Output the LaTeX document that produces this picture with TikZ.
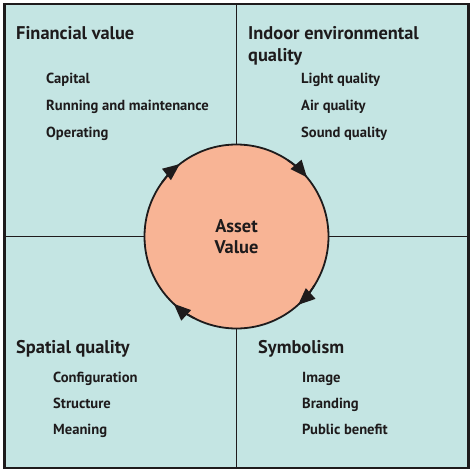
\documentclass[tikz,border=0pt]{standalone}
\usepackage{fontspec}
\setmainfont{PT Sans}
\usetikzlibrary{arrows.meta}
\definecolor{bgteal}{HTML}{C4E5E3}
\definecolor{salmon}{HTML}{F8B495}
\definecolor{ink}{HTML}{1E1B1C}
\begin{document}
\begin{tikzpicture}[x=1pt,y=-1pt,
  title/.style={anchor=base west,inner sep=0pt,font=\bfseries\fontsize{18.4}{20}\selectfont,text=ink},
  item/.style={anchor=base west,inner sep=0pt,font=\bfseries\fontsize{14.6}{16}\selectfont,text=ink},
  divider/.style={draw=ink,line width=1.8pt},
  cyc/.style={draw=ink,line width=1.8pt,-{Triangle[length=17pt,width=14pt]}}]
\useasboundingbox (0,0) rectangle (474,474);
\node[draw=ink,line width=2.2pt,fill=bgteal,minimum width=464pt,minimum height=464pt,inner sep=0pt,outer sep=0pt] (frame) at (236.5,236) {};
\node[circle,draw=ink,line width=1.8pt,fill=salmon,minimum size=184pt,inner sep=0pt,outer sep=0pt,align=center,font=\bfseries\fontsize{18.4}{22}\selectfont,text=ink] (av) at (236.5,236.5) {Asset\\[-1pt]Value};
\draw[divider] (frame.north -| av.north) -- (av.north);
\draw[divider] (frame.south -| av.south) -- (av.south);
\draw[divider] (frame.west |- av.west) -- (av.west);
\draw[divider] (frame.east |- av.east) -- (av.east);
\draw[cyc] (av.144) arc[start angle=144,end angle=128,radius=92pt];
\draw[cyc] (av.56) arc[start angle=56,end angle=40,radius=92pt];
\draw[cyc] (av.-32) arc[start angle=-32,end angle=-48,radius=92pt];
\draw[cyc] (av.-117) arc[start angle=-117,end angle=-133,radius=92pt];
% Financial value
\node[title] (fv) at (16,39) {Financial value};
\node[item] (fv1) at (46,83) {Capital};
\node[item] (fv2) at (46,110) {Running and maintenance};
\node[item] (fv3) at (46,137) {Operating};
% Indoor environmental quality
\node[title] (ieq) at (248,39) {Indoor environmental};
\node[title] (ieq2) at (248,61) {quality};
\node[item] (ieq3) at (301,83) {Light quality};
\node[item] (ieq4) at (301,110) {Air quality};
\node[item] (ieq5) at (301,137) {Sound quality};
% Spatial quality
\node[title] (sq) at (16,353) {Spatial quality};
\node[item] (sq1) at (53,382) {Configuration};
\node[item] (sq2) at (53,408) {Structure};
\node[item] (sq3) at (53,434) {Meaning};
% Symbolism
\node[title] (sy) at (258,353) {Symbolism};
\node[item] (sy1) at (302,382) {Image};
\node[item] (sy2) at (302,408) {Branding};
\node[item] (sy3) at (302,434) {Public benefit};
\end{tikzpicture}
\end{document}
